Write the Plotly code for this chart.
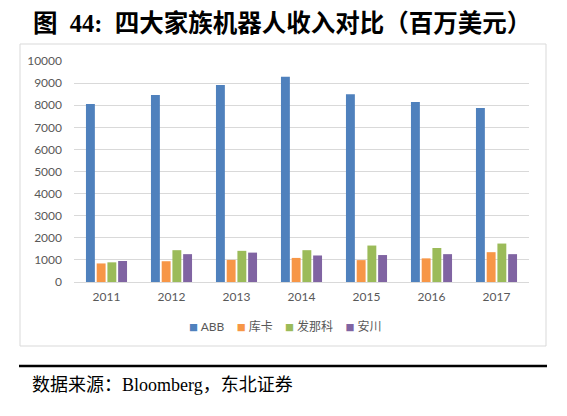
"""Bar chart: revenue of the four big robot makers (USD million)."""

import plotly.graph_objects as go

years = ["2011", "2012", "2013", "2014", "2015", "2016", "2017"]
abb = [8050, 8460, 8910, 9290, 8490, 8140, 7870]
kuka = [840, 940, 1000, 1090, 990, 1070, 1350]
fanuc = [890, 1440, 1410, 1440, 1650, 1540, 1740]
yaskawa = [950, 1260, 1330, 1200, 1220, 1260, 1260]

series_names = ["ABB", "库卡", "发那科", "安川"]
colors = ["#4F81BD", "#F79646", "#9BBB59", "#8064A2"]

W, H = 567, 416
L, R, T, B = 74, 529, 61, 282  # plot area in pixels


def px_x(x):
    return (x - L) / (R - L)


def px_y(y):
    return (B - y) / (B - T)


fig = go.Figure()
for name, vals, col in zip(series_names, [abb, kuka, fanuc, yaskawa], colors):
    fig.add_trace(go.Bar(x=years, y=vals, name=name, marker_color=col,
                         marker_line_width=0, showlegend=False))

tick_font = dict(family="Lato, Noto Sans CJK SC", size=12, color="#595959")

fig.update_layout(
    width=W,
    height=H,
    margin=dict(l=L, r=W - R, t=T, b=H - B, pad=0),
    paper_bgcolor="white",
    plot_bgcolor="white",
    barmode="group",
    bargap=0.34,
    bargroupgap=0.17,
    xaxis=dict(showgrid=False, showline=True, linecolor="#D9D9D9",
               linewidth=1, ticks="", tickfont=tick_font,
               ticklabelstandoff=4),
    yaxis=dict(range=[0, 10000], dtick=1000, tickformat="d", showgrid=True,
               gridcolor="#D9D9D9", gridwidth=1, zeroline=False,
               showline=False, ticks="", tickfont=tick_font,
               ticklabelstandoff=11),
    showlegend=False,
)

# compact legend like the source chart: small squares close to the labels
legend_text = "    ".join(
    f"<span style='color:{c};font-size:9px'>■</span> {n}"
    for n, c in zip(series_names, colors)
)
fig.add_annotation(text=legend_text, xref="paper", yref="paper",
                   x=px_x(285), y=px_y(326), xanchor="center",
                   yanchor="middle", showarrow=False,
                   font=dict(family="Lato, Noto Sans CJK SC", size=12,
                             color="#595959"))

# chart frame and the heavy rule under it
fig.add_shape(type="rect", xref="paper", yref="paper",
              x0=px_x(20), x1=px_x(546), y0=px_y(346), y1=px_y(44),
              line=dict(color="#D9D9D9", width=1), layer="below")
fig.add_shape(type="line", xref="paper", yref="paper",
              x0=px_x(19), x1=px_x(547), y0=px_y(366), y1=px_y(366),
              line=dict(color="black", width=2.5))

fig.add_annotation(text="<b>图  44:  四大家族机器人收入对比（百万美元）</b>",
                   xref="paper", yref="paper", x=px_x(31), y=px_y(24),
                   xanchor="left", yanchor="middle", showarrow=False,
                   font=dict(family="Liberation Serif, Noto Sans CJK SC",
                             size=24.5, color="black"))
fig.add_annotation(text="数据来源：Bloomberg，东北证券",
                   xref="paper", yref="paper", x=px_x(30), y=px_y(385),
                   xanchor="left", yanchor="middle", showarrow=False,
                   font=dict(family="Liberation Serif, Noto Sans CJK SC",
                             size=18, color="black"))

# drop the browser's default 8px body margin so the figure sits at 0,0
fig.write_html("out.html", config={"displayModeBar": False},
               post_script="document.body.style.margin='0';")
